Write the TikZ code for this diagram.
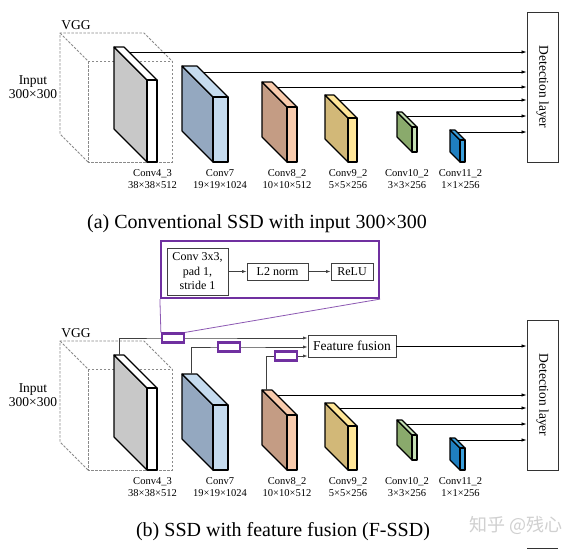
\documentclass[tikz,border=0pt]{standalone}
\usepackage{fontspec}
\setmainfont{Liberation Serif}
\newfontfamily\cjkfont{Noto Sans CJK SC}
\usetikzlibrary{arrows.meta}
\definecolor{c4side}{HTML}{C8C8C8}
\definecolor{c7side}{HTML}{94A8C0}
\definecolor{c7front}{HTML}{C5DBEF}
\definecolor{c8side}{HTML}{C49C84}
\definecolor{c8front}{HTML}{F8CBAD}
\definecolor{c9side}{HTML}{D2B878}
\definecolor{c9front}{HTML}{FFE699}
\definecolor{c10side}{HTML}{8AAA6C}
\definecolor{c10front}{HTML}{C5E0B4}
\definecolor{c11side}{HTML}{1F7FC0}
\definecolor{c11front}{HTML}{3A9EDA}
\definecolor{fpurple}{HTML}{7030A0}
\definecolor{wmgray}{HTML}{D0D0D0}
\definecolor{dashgray}{HTML}{8A8A8A}
\tikzset{
  slabline/.style={draw=black, line width=1.1pt, line join=round},
  vggdash/.style={draw=dashgray, line width=0.9pt, dash pattern=on 2.5pt off 1.5pt},
  lbl13/.style={font=\fontsize{13.5}{15}\selectfont, inner sep=0pt},
  lblsm/.style={font=\fontsize{10.5}{12}\selectfont, inner sep=0pt},
  captext/.style={font=\fontsize{20}{24}\selectfont, inner sep=0pt},
  detbox/.style={draw=black!80, line width=0.9pt, minimum width=31pt, minimum height=150pt, inner sep=0pt},
  arr/.style={draw=black, line width=0.8pt, -{Latex[length=5pt,width=3.5pt]}},
  ffline/.style={draw=black!75, line width=0.7pt, -{Latex[length=4.5pt,width=3.2pt]}},
  prect/.style={draw=fpurple, fill=white, line width=2.2pt, minimum width=22pt, minimum height=9pt, inner sep=0pt},
  bigbox/.style={draw=fpurple, line width=2.2pt, minimum width=218pt, minimum height=57pt, inner sep=0pt},
  ibox/.style={draw=black!75, line width=0.9pt, inner sep=0pt, font=\fontsize{12}{14.5}\selectfont, align=center},
  zline/.style={draw=fpurple!80, line width=0.8pt},
}
% xf yt w yb d side front top
\newcommand{\convslab}[8]{%
  \filldraw[slabline, fill=#6] (#1,#2) -- (#1-#5,#2-#5) -- (#1-#5,#4-#5) -- (#1,#4) -- cycle;
  \filldraw[slabline, fill=#8] (#1,#2) -- (#1-#5,#2-#5) -- (#1+#3-#5,#2-#5) -- (#1+#3,#2) -- cycle;
  \filldraw[slabline, fill=#7] (#1,#2) rectangle (#1+#3,#4);
}
\newcommand{\panelbase}[2]{%
\begin{scope}[yshift=-#1pt]
  \draw[vggdash] (88,61) rectangle (172,162);
  \draw[vggdash] (88,162) -- (60,134) -- (60,33) -- (144,33) -- (172,61);
  \draw[vggdash] (60,33) -- (88,61);
  \node[lbl13, anchor=base] (#2vgg) at (76,29) {VGG};
  \node[lbl13, anchor=base] (#2inA) at (33,84) {Input};
  \node[lbl13, anchor=base] (#2inB) at (33,98) {300×300};
  \convslab{147}{80}{10}{162}{33}{c4side}{white}{white}
  \convslab{213}{97}{15}{162}{31}{c7side}{c7front}{c7front}
  \convslab{287}{107}{10}{162}{25}{c8side}{c8front}{c8front}
  \convslab{348}{118}{9}{162}{23}{c9side}{c9front}{c9front}
  \convslab{412}{127}{5}{152}{15}{c10side}{c10front}{c10front}
  \convslab{460}{140}{5}{162}{10}{c11side}{c11front}{c11front}
  \node[lblsm, anchor=base] (#2la) at (152.5,176) {Conv4\_3};
  \node[lblsm, anchor=base] (#2lb) at (152.5,188) {38×38×512};
  \node[lblsm, anchor=base] (#2lc) at (220,176) {Conv7};
  \node[lblsm, anchor=base] (#2ld) at (220,188) {19×19×1024};
  \node[lblsm, anchor=base] (#2le) at (287,176) {Conv8\_2};
  \node[lblsm, anchor=base] (#2lf) at (287,188) {10×10×512};
  \node[lblsm, anchor=base] (#2lg) at (348,176) {Conv9\_2};
  \node[lblsm, anchor=base] (#2lh) at (348,188) {5×5×256};
  \node[lblsm, anchor=base] (#2li) at (407,176) {Conv10\_2};
  \node[lblsm, anchor=base] (#2lj) at (407,188) {3×3×256};
  \node[lblsm, anchor=base] (#2lk) at (460.5,176) {Conv11\_2};
  \node[lblsm, anchor=base] (#2ll) at (460.5,188) {1×1×256};
  \node[detbox] (#2det) at (542.5,87) {};
  \node[lbl13, rotate=-90] (#2dett) at (#2det.center) {Detection layer};
  \coordinate (#2s8) at (277,87);
  \coordinate (#2s9) at (339,100);
  \coordinate (#2s10) at (406,116);
  \coordinate (#2s11) at (458,132);
  \draw[arr] (#2s8) -- (#2s8 -| #2det.west);
  \draw[arr] (#2s9) -- (#2s9 -| #2det.west);
  \draw[arr] (#2s10) -- (#2s10 -| #2det.west);
  \draw[arr] (#2s11) -- (#2s11 -| #2det.west);
\end{scope}}
\begin{document}
\begin{tikzpicture}[x=1pt,y=-1pt]
\useasboundingbox (0,0) rectangle (576,549);
\fill[white] (0,0) rectangle (576,549);
% ---------- panel (a)
\panelbase{0}{a}
\coordinate (as4) at (129,52);
\coordinate (as7) at (203,72);
\draw[arr] (as4) -- (as4 -| adet.west);
\draw[arr] (as7) -- (as7 -| adet.west);
\node[captext, anchor=base] (capa) at (257,228) {(a) Conventional SSD with input 300×300};
% ---------- panel (b)
\panelbase{308}{b}
\node[draw=black!75, line width=0.9pt, minimum width=88pt, minimum height=22pt, inner sep=0pt, font=\fontsize{13.5}{15}\selectfont] (ff) at (352,346) {Feature fusion};
\draw[arr] (ff.east) -- (ff.east -| bdet.west);
\coordinate (v1) at (119,355);
\coordinate (v2) at (191,374);
\coordinate (v3) at (266,390);
\coordinate (h1) at (173,338);
\coordinate (h2) at (229,347);
\coordinate (h3) at (286,356);
\draw[ffline] (v1) |- (h1) -- (h1 -| ff.west);
\draw[ffline] (v2) |- (h2) -- (h2 -| ff.west);
\draw[ffline] (v3) |- (h3) -- (h3 -| ff.west);
\node[prect] (r1) at (h1) {};
\node[prect] (r2) at (h2) {};
\node[prect] (r3) at (h3) {};
\node[bigbox] (zbox) at (270,269.5) {};
\draw[zline] (zbox.south west) -- (r1.north west);
\draw[zline] (zbox.south east) -- (r1.north east);
\node[ibox, minimum width=61pt, minimum height=47pt] (cv) at (197.5,271.5) {Conv 3x3,\\pad 1,\\stride 1};
\node[ibox, minimum width=61pt, minimum height=17pt] (l2) at (277.5,271.5) {L2 norm};
\node[ibox, minimum width=42pt, minimum height=17pt] (relu) at (352,271.5) {ReLU};
\draw[ffline] (cv) -- (l2);
\draw[ffline] (l2) -- (relu);
\node[captext, anchor=base] (capb) at (283,536) {(b) SSD with feature fusion (F-SSD)};
\node[text=wmgray, font=\cjkfont\fontsize{18}{20}\selectfont, inner sep=0pt] (wm) at (516,525) {知乎 @残心};
\draw[black!80, line width=0.9pt] (527,548.5) -- (558,548.5);
\end{tikzpicture}
\end{document}
